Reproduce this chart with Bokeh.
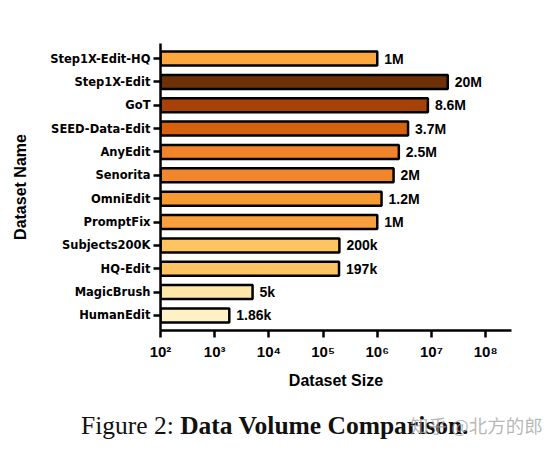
from bokeh.plotting import figure
from bokeh.models import Range1d, FactorRange, ColumnDataSource, FixedTicker, Div
from bokeh.layouts import column
from bokeh.core.properties import value
from bokeh.embed import file_html
from bokeh.resources import INLINE

names = ["Step1X-Edit-HQ", "Step1X-Edit", "GoT", "SEED-Data-Edit", "AnyEdit", "Senorita",
         "OmniEdit", "PromptFix", "Subjects200K", "HQ-Edit", "MagicBrush", "HumanEdit"]
sizes = [1e6, 2e7, 8.6e6, 3.7e6, 2.5e6, 2e6, 1.2e6, 1e6, 2e5, 1.97e5, 5e3, 1.86e3]
size_labels = ["1M", "20M", "8.6M", "3.7M", "2.5M", "2M", "1.2M", "1M", "200k", "197k", "5k", "1.86k"]
colors = ["#FDA83F", "#6E3007", "#A64207", "#D7620D", "#F1842A", "#F1862B",
          "#F79A32", "#F9A03C", "#FDC462", "#FDC462", "#FEE6A8", "#FFF1C6"]
x_ticks = [1e2, 1e3, 1e4, 1e5, 1e6, 1e7, 1e8]
x_tick_labels = ["10²", "10³", "10⁴", "10⁵", "10⁶", "10⁷", "10⁸"]
x_start, x_end = 1e2, 3.0e8

src = ColumnDataSource(dict(name=names, size=sizes, label=size_labels, color=colors,
                            left=[x_start] * len(names)))

p = figure(width=532, height=403, output_backend="svg", toolbar_location=None,
           x_axis_type="log", x_range=Range1d(x_start, x_end),
           y_range=FactorRange(factors=list(reversed(names)), range_padding=0.145,
                               range_padding_units="absolute"),
           min_border_left=160, min_border_right=21, min_border_top=43, min_border_bottom=73)

p.hbar(y="name", left="left", right="size", height=0.6, fill_color="color",
       line_color="black", line_width=2.5, source=src)
p.text(x="size", y="name", text="label", x_offset=7, text_baseline="middle", text_align="left",
       text_font=value("Liberation Sans"), text_font_style="bold", text_font_size="14px",
       text_color="black", source=src)

p.outline_line_color = None
p.grid.visible = False
p.background_fill_color = "white"

xa = p.xaxis[0]
xa.ticker = FixedTicker(ticks=x_ticks)
xa.major_label_overrides = {t: l for t, l in zip(x_ticks, x_tick_labels)}
xa.minor_tick_line_color = None
xa.axis_line_width = 2.5
xa.major_tick_line_width = 2.5
xa.major_tick_in = 0
xa.major_tick_out = 7
xa.major_label_text_font = "Liberation Sans"
xa.major_label_text_font_style = "bold"
xa.major_label_text_font_size = "15px"
xa.major_label_text_color = "black"
xa.major_label_standoff = 5
xa.axis_label = "Dataset Size"
xa.axis_label_text_font = "Liberation Sans"
xa.axis_label_text_font_style = "bold"
xa.axis_label_text_font_size = "16px"
xa.axis_label_text_color = "black"
xa.axis_label_standoff = 9

ya = p.yaxis[0]
ya.axis_line_width = 2.5
ya.major_tick_line_width = 2.5
ya.major_tick_in = 0
ya.major_tick_out = 7
ya.minor_tick_line_color = None
ya.major_label_text_font = "DejaVu Sans"
ya.major_label_text_font_style = "bold"
ya.major_label_text_font_size = "11.5px"
ya.major_label_text_color = "black"
ya.major_label_standoff = 3
ya.axis_label = "Dataset Name"
ya.axis_label_text_font = "Liberation Sans"
ya.axis_label_text_font_style = "bold"
ya.axis_label_text_font_size = "16px"
ya.axis_label_text_color = "black"
ya.axis_label_standoff = 18

caption = Div(
    text=('<div style="position:relative;width:532px;height:40px;">'
          '<div style="position:absolute;left:81px;top:5px;font-family:\'Liberation Serif\',serif;'
          'font-size:25.5px;color:#111;white-space:nowrap;">Figure 2: <b>Data Volume Comparison.</b></div>'
          '<div style="position:absolute;left:410px;top:9px;font-family:\'Noto Sans CJK SC\',sans-serif;'
          'font-size:18.5px;color:rgba(160,160,160,0.75);white-space:nowrap;">知乎 @北方的郎</div>'
          '</div>'),
    width=532, height=40, margin=(0, 0, 0, 0))

layout = column(p, caption, spacing=0)
open("out.html", "w").write(file_html(layout, INLINE))
